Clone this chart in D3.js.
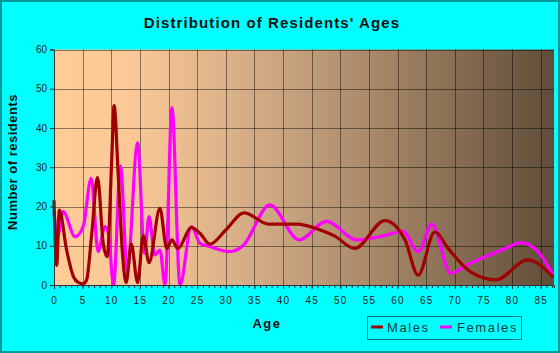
<!DOCTYPE html>
<html><head><meta charset="utf-8">
<script src="https://cdn.jsdelivr.net/npm/d3@7"></script>
<style>body{margin:0;background:#00ffff;}svg{display:block;font-family:Arial,"Liberation Sans",sans-serif;}</style>
</head><body><svg id="c" width="560" height="353"></svg>
<script>
const maleAges = [0, 0.47, 0.93, 2.2, 3.4, 4.3, 5.1, 5.7, 6.6, 7.6, 8.6, 9.3, 10.1, 10.5, 11.2, 12, 12.6, 13.5, 14.6, 15.6, 16.6, 18.5, 19.7, 20.6, 21.6, 24, 25.5, 27.2, 30, 33.2, 37.5, 42.4, 46.5, 49, 52.5, 57.8, 61.3, 63.6, 66.5, 68.9, 72.7, 77.2, 82.7, 87.2];
const males = [21.6, 5, 19.1, 8.9, 2.1, 0.6, 0.3, 1.3, 13.2, 27.4, 10.6, 7.2, 32.7, 45.7, 28.5, 7.2, 0.6, 10.4, 0.6, 12.5, 5.7, 19.5, 9.3, 11.5, 9.3, 14.6, 13.2, 10.4, 14, 18.4, 15.5, 15.5, 14, 12.5, 9.3, 16.4, 11.5, 2.5, 13.5, 9.2, 3.4, 1.3, 6.4, 2.0];
const femaleAges = [0, 0.6, 1.6, 3.7, 5.1, 6.5, 7.7, 8.9, 9.5, 10.4, 11.6, 12.8, 14.6, 15.8, 16.6, 17.6, 18.5, 19.4, 20.6, 22, 24, 25.5, 27.2, 30.6, 33, 37.7, 42.8, 47.6, 52.9, 57.5, 61, 63.6, 66, 69.3, 72.1, 78.5, 81.6, 84.3, 87.2];
const females = [18.7, 12.3, 18.7, 12.3, 14.9, 27.2, 8.5, 14.9, 13.2, 0, 30.3, 3.8, 36.2, 8.1, 17.4, 7.6, 8.9, 0, 45.2, 0, 14.9, 10.6, 9.8, 8.5, 10, 20.4, 11.5, 16.2, 11.5, 12.5, 13.7, 8.5, 15.5, 3.0, 5.1, 9.1, 10.8, 8.9, 2.5];
const xTicks = [0,5,10,15,20,25,30,35,40,45,50,55,60,65,70,75,80,85];
const yTicks = [0,10,20,30,40,50,60];
const title = "Distribution of Residents' Ages";
const seriesNames = ["Males","Females"];

const svg = d3.select("#c");
const L=54, R=554, T=49.5, B=285;
const x = d3.scaleLinear().domain([0,87.33]).range([L,R]);
const y = d3.scaleLinear().domain([0,60]).range([B,T]);

svg.append("rect").attr("x",1).attr("y",1).attr("width",558).attr("height",351)
  .attr("fill","#00ffff").attr("stroke","#009a9a").attr("stroke-width",2);

const defs = svg.append("defs");
const g = defs.append("linearGradient").attr("id","bg").attr("x1","0").attr("x2","1").attr("y1","0").attr("y2","0");
[[0,"#ffcc99"],[0.15,"#fbc997"],[0.45,"#cba581"],[0.7,"#9c7f60"],[1,"#5f4c39"]].forEach(s=>g.append("stop").attr("offset",s[0]).attr("stop-color",s[1]));
svg.append("rect").attr("x",L).attr("y",T).attr("width",R-L).attr("height",B-T).attr("fill","url(#bg)");

// grid
const grid = svg.append("g").attr("stroke","#000").attr("stroke-opacity",0.45).attr("stroke-width",1);
yTicks.filter(d=>d>0).forEach(d=>grid.append("line").attr("x1",L).attr("x2",R).attr("y1",Math.round(y(d))+0.5).attr("y2",Math.round(y(d))+0.5));
xTicks.filter(d=>d>0).forEach(d=>grid.append("line").attr("y1",T).attr("y2",B).attr("x1",Math.round(x(d))+0.5).attr("x2",Math.round(x(d))+0.5));

// lines
const line = (ages,vals)=>d3.line().x((d,i)=>x(ages[i])).y(d=>y(d)).curve(d3.curveMonotoneX)(vals);
svg.append("path").attr("d",line(femaleAges,females)).attr("fill","none").attr("stroke","#ff00ff").attr("stroke-width",3.2).attr("stroke-linejoin","round");
svg.append("path").attr("d",line(maleAges,males)).attr("fill","none").attr("stroke","#a00000").attr("stroke-width",3.2).attr("stroke-linejoin","round");

// axes
const xa = svg.append("g").attr("transform",`translate(0,${B})`)
  .call(d3.axisBottom(x).tickValues(d3.range(0,88)).tickSize(3).tickFormat(""));
const xb = svg.append("g").attr("transform",`translate(0,${B})`)
  .call(d3.axisBottom(x).tickValues(xTicks).tickSize(4).tickPadding(8));
const ya = svg.append("g").attr("transform",`translate(${L},0)`)
  .call(d3.axisLeft(y).tickValues(yTicks).tickSize(4).tickPadding(3));
[xa,xb,ya].forEach(a=>{a.select(".domain").attr("stroke","#333");a.selectAll("line").attr("stroke","#333");});
xb.select(".domain").remove();
svg.selectAll(".tick text").attr("fill","#222").style("font-size","10px").style("letter-spacing","1.2px")
  .style("font-family","Arial,'Liberation Sans',sans-serif");
ya.selectAll(".tick text").style("letter-spacing","0px");

// titles
svg.append("text").attr("x",272).attr("y",28).attr("text-anchor","middle")
  .style("font-size","15px").style("font-weight","bold").style("letter-spacing","1.1px").attr("fill","#111").text(title);
svg.append("text").attr("x",267).attr("y",328).attr("text-anchor","middle")
  .style("font-size","13px").style("font-weight","bold").style("letter-spacing","1.5px").attr("fill","#111").text("Age");
svg.append("text").attr("transform","translate(17,162) rotate(-90)").attr("text-anchor","middle")
  .style("font-size","13px").style("font-weight","bold").style("letter-spacing","0.5px").attr("fill","#111").text("Number of residents");

// legend
svg.append("rect").attr("x",367.5).attr("y",316.5).attr("width",154).attr("height",23).attr("fill","none").attr("stroke","#008080").attr("stroke-width",1);
const lg = [[371,387,"#a00000"],[440,457,"#ff00ff"]];
lg.forEach((d,i)=>{
  svg.append("line").attr("x1",d[0]).attr("x2",d[0]+12).attr("y1",327).attr("y2",327).attr("stroke",d[2]).attr("stroke-width",3);
  svg.append("text").attr("x",d[1]).attr("y",332).style("font-size","13px").style("letter-spacing","1.6px").attr("fill","#003c3c").text(seriesNames[i]);
});
</script></body></html>
